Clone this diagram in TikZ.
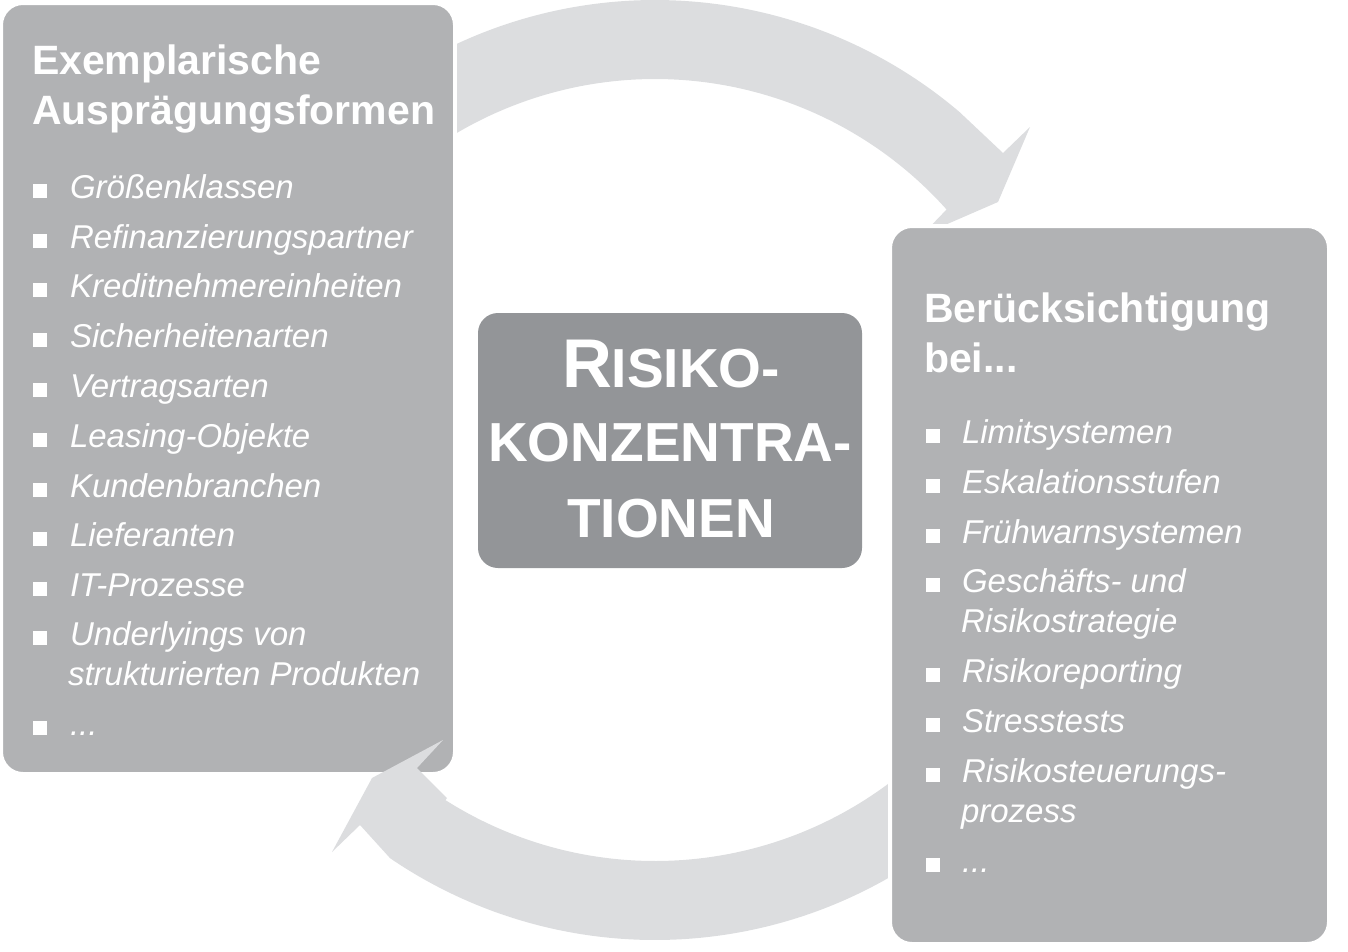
\documentclass[tikz,border=0pt]{standalone}
\usepackage{fontspec}
\setmainfont{Liberation Sans}
\usetikzlibrary{calc}
\definecolor{boxgray}{RGB}{177,178,180}
\definecolor{centergray}{RGB}{147,149,152}
\definecolor{arrowgray}{RGB}{220,221,223}
\begin{document}
\begin{tikzpicture}[x=1pt,y=-1pt,
  panel/.style={rectangle, fill=boxgray, draw=white, line width=4pt, rounded corners=22pt, inner sep=0pt, outer sep=0pt},
  core/.style={rectangle, fill=centergray, rounded corners=20pt, inner sep=0pt, outer sep=0pt},
  flow/.style={fill=arrowgray},
  head/.style={anchor=base west, inner sep=0pt, outer sep=0pt, text=white, font=\fontsize{41}{50}\selectfont\bfseries},
  entry/.style={anchor=base west, inner sep=0pt, outer sep=0pt, text=white, font=\fontsize{33}{40}\selectfont\itshape},
  sq/.style={rectangle, fill=white, minimum size=14.5pt, inner sep=0pt, outer sep=0pt},
  title/.style={anchor=base, inner sep=0pt, outer sep=0pt, text=white, font=\fontsize{55}{60}\selectfont\bfseries}]
\useasboundingbox (0,0) rectangle (1348,951);

% left panel
\node[panel, minimum width=454pt, minimum height=771pt] (left) at (228,388.5) {};

% top curved arrow
\fill[flow] plot[domain=-114.9:-49.6, samples=90] ({655+470*cos(\x)},{470+470*sin(\x)})
  -- (1003,153) -- (1030,127) -- (998,202) -- (922,235) -- (948,208)
  -- plot[domain=-41.8:-120.4, samples=90] ({655+391*cos(\x)},{470+391*sin(\x)}) -- cycle;

% bottom curved arrow
\fill[flow] plot[domain=60.3:124.3, samples=90] ({655+470*cos(\x)},{470+470*sin(\x)})
  -- (360,825) -- (332,852) -- (372,778) -- (443,740) -- (417,768) -- (447,798)
  -- plot[domain=122.4:53.4, samples=90] ({655+391*cos(\x)},{470+391*sin(\x)}) -- cycle;

% right panel
\node[panel, minimum width=439pt, minimum height=718pt] (right) at (1109.5,585) {};

% centre box
\node[core, minimum width=384pt, minimum height=255pt] (centre) at (670,440.5) {};

\node[title] (c1) at (671,387) {{\fontsize{69}{69}\selectfont R}ISIKO-};
\node[title] (c2) at (670,461) {KONZENTRA-};
\node[title] (c3) at (671,537) {TIONEN};

% left texts
\node[head] (lh1) at (32,74) {Exemplarische};
\node[head] (lh2) at (32,124) {Ausprägungsformen};

\node[sq] (lb1) at (40,191) {};  \node[entry] (lt1) at (70,198) {Größenklassen};
\node[sq] (lb2) at (40,241) {};  \node[entry] (lt2) at (70,248) {Refinanzierungspartner};
\node[sq] (lb3) at (40,290) {};  \node[entry] (lt3) at (70,297) {Kreditnehmereinheiten};
\node[sq] (lb4) at (40,340) {};  \node[entry] (lt4) at (70,347) {Sicherheitenarten};
\node[sq] (lb5) at (40,390) {};  \node[entry] (lt5) at (70,397) {Vertragsarten};
\node[sq] (lb6) at (40,440) {};  \node[entry] (lt6) at (70,447) {Leasing-Objekte};
\node[sq] (lb7) at (40,490) {};  \node[entry] (lt7) at (70,497) {Kundenbranchen};
\node[sq] (lb8) at (40,539) {};  \node[entry] (lt8) at (70,546) {Lieferanten};
\node[sq] (lb9) at (40,589) {};  \node[entry] (lt9) at (70,596) {IT-Prozesse};
\node[sq] (lb10) at (40,638) {}; \node[entry] (lt10) at (70,645) {Underlyings von};
\node[entry] (lt10b) at (68,685) {strukturierten Produkten};
\node[sq] (lb11) at (40,728) {}; \node[entry] (lt11) at (70,735) {...};

% right texts
\node[head] (rh1) at (924,322) {Berücksichtigung};
\node[head] (rh2) at (924,372) {bei...};

\node[sq] (rb1) at (933,436) {}; \node[entry] (rt1) at (962,443) {Limitsystemen};
\node[sq] (rb2) at (933,486) {}; \node[entry] (rt2) at (962,493) {Eskalationsstufen};
\node[sq] (rb3) at (933,536) {}; \node[entry] (rt3) at (962,543) {Frühwarnsystemen};
\node[sq] (rb4) at (933,585) {}; \node[entry] (rt4) at (962,592) {Geschäfts- und};
\node[entry] (rt4b) at (961,632) {Risikostrategie};
\node[sq] (rb5) at (933,675) {}; \node[entry] (rt5) at (962,682) {Risikoreporting};
\node[sq] (rb6) at (933,725) {}; \node[entry] (rt6) at (962,732) {Stresstests};
\node[sq] (rb7) at (933,775) {}; \node[entry] (rt7) at (962,782) {Risikosteuerungs-};
\node[entry] (rt7b) at (961,822) {prozess};
\node[sq] (rb8) at (933,865) {}; \node[entry] (rt8) at (962,872) {...};
\end{tikzpicture}
\end{document}
